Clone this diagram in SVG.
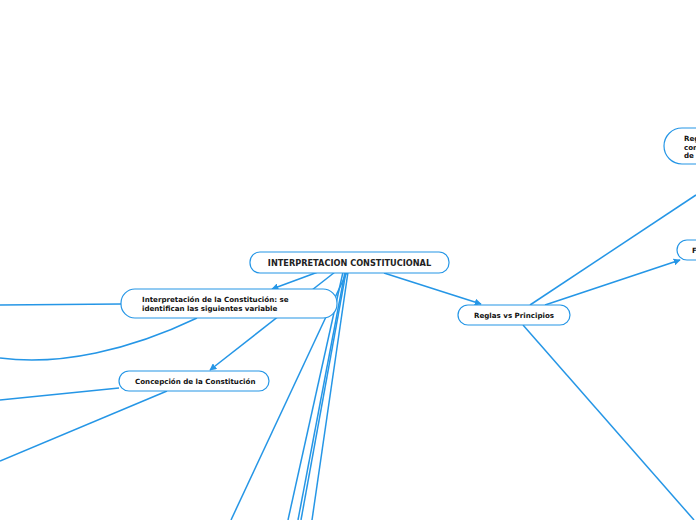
<svg xmlns="http://www.w3.org/2000/svg" width="696" height="520" viewBox="0 0 696 520">
<defs>
<style>
.c{fill:none;stroke:#2596e6;stroke-width:1.5}
.n{fill:#fff;stroke:#2596e6;stroke-width:1.2}
.t{font-family:"DejaVu Sans",Verdana,sans-serif;font-weight:bold;font-size:7.1px;fill:#111}
.r{font-family:"DejaVu Sans",Verdana,sans-serif;font-weight:bold;font-size:8.2px;fill:#222}
</style>
<marker id="a" viewBox="0 0 10 10" refX="9" refY="5" markerWidth="7" markerHeight="7" markerUnits="userSpaceOnUse" orient="auto">
<path d="M0,0 L10,5 L0,10 z" fill="#2596e6"/>
</marker>
</defs>
<rect width="696" height="520" fill="#fff"/>
<g id="connectors">
<line class="c" x1="318" y1="272" x2="272" y2="289" marker-end="url(#a)"/>
<line class="c" x1="335" y1="272" x2="210" y2="370" marker-end="url(#a)"/>
<line class="c" x1="384" y1="273" x2="481" y2="304" marker-end="url(#a)"/>
<line class="c" x1="347" y1="272" x2="231" y2="520"/>
<line class="c" x1="343" y1="272" x2="288" y2="520"/>
<line class="c" x1="345" y1="272" x2="298" y2="520"/>
<line class="c" x1="346" y1="272" x2="301" y2="520"/>
<line class="c" x1="348" y1="272" x2="312" y2="520"/>
<line class="c" x1="121" y1="304" x2="0" y2="305"/>
<path class="c" d="M197,318 C130,350 60,366 0,358"/>
<line class="c" x1="119" y1="388" x2="0" y2="400"/>
<line class="c" x1="167" y1="391" x2="0" y2="461"/>
<line class="c" x1="530" y1="305" x2="696" y2="195"/>
<line class="c" x1="545" y1="305" x2="680" y2="260" marker-end="url(#a)"/>
<line class="c" x1="523" y1="325" x2="694" y2="520"/>
</g>
<g id="root">
<rect class="n" x="250" y="252" width="199" height="21" rx="10"/>
<text class="r" x="349.5" y="265.5" text-anchor="middle">INTERPRETACION CONSTITUCIONAL</text>
</g>
<g id="interpretacion">
<rect class="n" x="121" y="289" width="216" height="29" rx="14"/>
<text class="t" x="142" y="301.5">Interpretación de la Constitución: se</text>
<text class="t" x="142" y="311">identifican las siguientes variable</text>
</g>
<g id="concepcion">
<rect class="n" x="119" y="371" width="150" height="20" rx="10"/>
<text class="t" x="135" y="384">Concepción de la Constitución</text>
</g>
<g id="reglas">
<rect class="n" x="458" y="305" width="112" height="20" rx="10"/>
<text class="t" x="514" y="318" text-anchor="middle">Reglas vs Principios</text>
</g>
<g id="reg">
<rect class="n" x="664" y="128" width="60" height="36" rx="18"/>
<text class="t" x="684" y="141">Reg</text>
<text class="t" x="684" y="149.5">con</text>
<text class="t" x="684" y="158">de</text>
</g>
<g id="f">
<rect class="n" x="677" y="240" width="40" height="20" rx="10"/>
<text class="t" x="692" y="253">F</text>
</g>
</svg>
